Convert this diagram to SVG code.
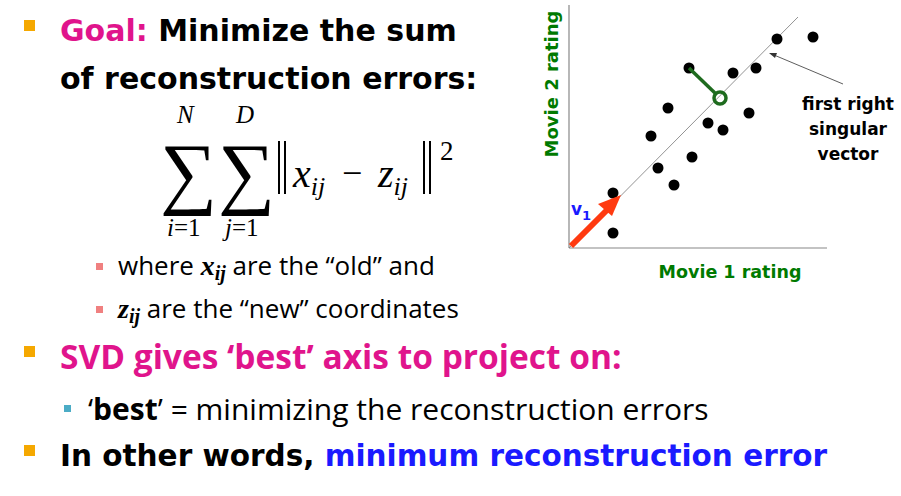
<svg xmlns="http://www.w3.org/2000/svg" width="901" height="496" viewBox="0 0 901 496">
<style>
.b{font-family:"DejaVu Sans","Liberation Sans",sans-serif;font-weight:bold}
.c{font-family:"Open Sans","Liberation Sans",sans-serif;font-weight:bold}
.r{font-family:"Open Sans","Liberation Sans",sans-serif}
.m{font-family:"Liberation Serif",serif;font-style:italic}
.dot{fill:#000}
.g{fill:#007A00}
</style>
<rect width="901" height="496" fill="#fff"/>
<g id="text">
<rect x="24" y="20" width="11" height="11" fill="#F5A800"/>
<text class="b" x="60" y="41" font-size="30"><tspan fill="#E0148C">Goal:</tspan> Minimize the sum</text>
<text class="b" x="60" y="89" font-size="30">of reconstruction errors:</text>
<g class="m" fill="#000">
<text x="160" y="199" font-size="80" font-style="normal">∑</text>
<text x="218" y="199" font-size="80" font-style="normal">∑</text>
<text x="177" y="123" font-size="25">N</text>
<text x="236" y="123" font-size="25">D</text>
<text x="167" y="236" font-size="25">i<tspan font-style="normal">=1</tspan></text>
<text x="225" y="236" font-size="25">j<tspan font-style="normal">=1</tspan></text>
<path d="M279 141V194M285 141V194M424 141V194M430 141V194" stroke="#000" stroke-width="2"/>
<text x="293" y="187" font-size="40">x<tspan font-size="26" dy="8">ij</tspan></text>
<text x="342" y="185" font-size="36" font-style="normal">−</text>
<text x="378" y="187" font-size="40">z<tspan font-size="26" dy="8">ij</tspan></text>
<text x="440" y="160" font-size="27" font-style="normal">2</text>
</g>
<rect x="96" y="263" width="7" height="7" fill="#F08080"/>
<text class="r" x="118" y="275" font-size="26">where <tspan class="m" font-weight="bold" font-size="28">x<tspan font-size="20" dy="5">ij</tspan></tspan><tspan dy="-5"> are the “old” and</tspan></text>
<rect x="96" y="306" width="7" height="7" fill="#F08080"/>
<text class="r" x="118" y="318" font-size="26"><tspan class="m" font-weight="bold" font-size="28">z<tspan font-size="20" dy="5">ij</tspan></tspan><tspan dy="-5"> are the “new” coordinates</tspan></text>
<rect x="24" y="346" width="11" height="11" fill="#F5A800"/>
<text class="c" x="60" y="369" font-size="33.5" fill="#E0148C">SVD gives ‘best’ axis to project on:</text>
<rect x="64" y="405" width="7" height="7" fill="#4BACC6"/>
<text class="r" x="88" y="420" font-size="30">‘<tspan font-weight="bold">best</tspan>’ = minimizing the reconstruction errors</text>
<rect x="24" y="445" width="11" height="11" fill="#F5A800"/>
<text class="b" x="60" y="466" font-size="29.5">In other words, <tspan fill="#1A1AFF">minimum reconstruction error</tspan></text>
</g>
<g id="plot">
<line x1="569" y1="5" x2="569" y2="248" stroke="#888" stroke-width="1.2"/>
<line x1="569" y1="248" x2="827" y2="248" stroke="#888" stroke-width="1.2"/>
<line x1="569" y1="248" x2="798" y2="17" stroke="#777" stroke-width="0.8"/>
<g class="dot">
<circle cx="613" cy="193" r="5.5"/><circle cx="613" cy="233" r="5.5"/><circle cx="658" cy="168" r="5.5"/>
<circle cx="674" cy="185" r="5.5"/><circle cx="651" cy="136" r="5.5"/><circle cx="668" cy="108" r="5.5"/>
<circle cx="692" cy="157" r="5.5"/><circle cx="708" cy="123" r="5.5"/><circle cx="723" cy="130" r="5.5"/>
<circle cx="689" cy="68" r="5.5"/><circle cx="733" cy="73" r="5.5"/><circle cx="756" cy="68" r="5.5"/>
<circle cx="749" cy="113" r="5.5"/><circle cx="777" cy="39" r="5.5"/><circle cx="813" cy="37" r="5.5"/>
</g>
<line x1="689" y1="68" x2="716" y2="94" stroke="#1E6B1E" stroke-width="3.5"/>
<circle cx="720" cy="98" r="6" fill="none" stroke="#1E6B1E" stroke-width="3.5"/>
<line x1="571" y1="246" x2="614" y2="203" stroke="#FF3A10" stroke-width="6"/>
<polygon points="621,195 598,204 612,216" fill="#FF3A10"/>
<text class="b" x="571" y="215" font-size="17" fill="#1A1AFF">v<tspan font-size="13" dy="5">1</tspan></text>
<line x1="843" y1="84" x2="774" y2="55" stroke="#333" stroke-width="0.8"/>
<polygon points="769,53 777,53 775,58" fill="#333"/>
<text class="b" font-size="17" text-anchor="middle"><tspan x="848" y="110">first right</tspan><tspan x="848" y="135">singular</tspan><tspan x="848" y="160">vector</tspan></text>
<text class="b g" x="730" y="278" font-size="17.5" text-anchor="middle">Movie 1 rating</text>
<text class="b g" x="0" y="0" font-size="18" text-anchor="middle" transform="translate(558,84) rotate(-90)">Movie 2 rating</text>
</g>
</svg>
